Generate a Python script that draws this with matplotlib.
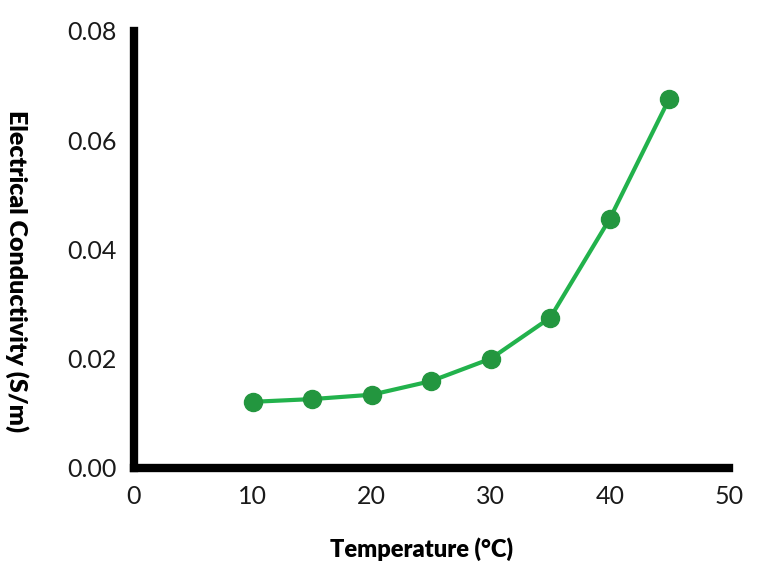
import matplotlib
matplotlib.use("Agg")
import matplotlib.pyplot as plt

temperature = [10, 15, 20, 25, 30, 35, 40, 45]
conductivity = [0.0121, 0.0126, 0.0134, 0.0159, 0.0200, 0.0275, 0.0456, 0.0676]
x_ticks = [0, 10, 20, 30, 40, 50]
y_ticks = [0.00, 0.02, 0.04, 0.06, 0.08]

fig = plt.figure(figsize=(7.68, 5.82), dpi=100)
ax = fig.add_axes([0.174, 0.196, 0.775, 0.751])

ax.plot(temperature, conductivity, color="#22b24c", lw=3, zorder=2)
ax.plot(temperature, conductivity, "o", color="#23963f", ms=13, mec="#23963f", zorder=3)

ax.set_xlim(0, 50)
ax.set_ylim(0, 0.08)
ax.set_xticks(x_ticks)
ax.set_yticks(y_ticks)
ax.set_xticklabels([str(t) for t in x_ticks])
ax.set_yticklabels([f"{t:.2f}" for t in y_ticks])
ax.tick_params(length=0, labelsize=18, pad=12, labelcolor="#1a1a1a")
for lab in ax.get_xticklabels() + ax.get_yticklabels():
    lab.set_fontfamily("Lato")
    lab.set_fontweight("normal")

for side in ["top", "right"]:
    ax.spines[side].set_visible(False)
for side in ["left", "bottom"]:
    ax.spines[side].set_linewidth(6)
    ax.spines[side].set_color("black")
    ax.spines[side].set_capstyle("projecting")

ax.set_xlabel("Temperature (°C)", fontsize=17, fontweight="heavy", fontfamily="Lato", va="center")
ax.set_ylabel("Electrical Conductivity (S/m)", fontsize=18, fontweight="heavy", fontfamily="Lato",
              rotation=-90, va="center")
ax.xaxis.set_label_coords(0.484, -0.185)
ax.yaxis.set_label_coords(-0.196, 0.45)

fig.savefig("out.png", dpi=100)
